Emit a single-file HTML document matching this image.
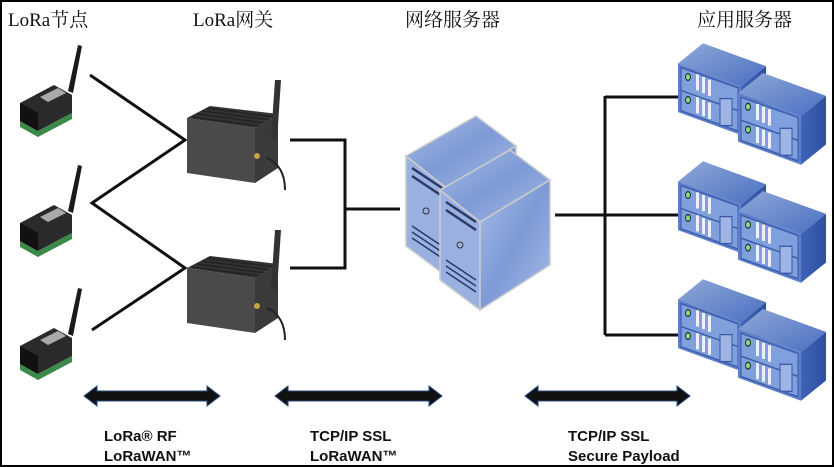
<!DOCTYPE html>
<html><head><meta charset="utf-8"><style>
html,body{margin:0;padding:0;background:#fff}
svg{display:block}
</style></head><body>
<svg width="834" height="467" viewBox="0 0 834 467" xmlns="http://www.w3.org/2000/svg">
<defs>
<linearGradient id="top" x1="0" y1="0" x2="1" y2="1"><stop offset="0" stop-color="#8fa8d8"/><stop offset="1" stop-color="#4a6fc0"/></linearGradient>
<linearGradient id="side" x1="0" y1="0" x2="1" y2="0"><stop offset="0" stop-color="#3d63b8"/><stop offset="1" stop-color="#2f4f9e"/></linearGradient>
<linearGradient id="tw" x1="0" y1="0" x2="1" y2="1"><stop offset="0" stop-color="#a8bde6"/><stop offset="0.5" stop-color="#7d9ad6"/><stop offset="1" stop-color="#a9bde6"/></linearGradient>
<g id="node">
  <path d="M56 36 L66 -10 L70 -9 L61 38 Z" fill="#1a1a1a"/>
  <polygon points="8,48 42,30 60,40 60,58 26,76 8,66" fill="#2a2a2a"/>
  <polygon points="8,66 26,76 60,58 60,64 26,82 8,72" fill="#3c8a4a"/>
  <polygon points="28,42 46,33 54,38 36,47" fill="#aaa"/>
  <polygon points="8,48 26,58 26,76 8,66" fill="#111"/>
</g>
<g id="gw">
  <polygon points="0,10 68,20 68,75 0,65" fill="#4a4a4a"/>
  <polygon points="0,10 23,-2 91,6 68,20" fill="#333"/>
  <path d="M5 9 L73 18 M10 6 L78 15 M15 3 L83 12 M20 0 L88 9" stroke="#222" stroke-width="1.5"/>
  <polygon points="68,20 91,6 91,60 68,75" fill="#3a3a3a"/>
  <path d="M84 30 L88 -28 L94 -28 L90 32 Z" fill="#333"/>
  <path d="M80 50 Q98 58 98 82" stroke="#222" stroke-width="2" fill="none"/>
  <circle cx="70" cy="48" r="3" fill="#c9a245"/>
</g>
<g id="unit">
  <polygon points="0,10 25,-5 88,12 63,27" fill="url(#top)"/>
  <polygon points="63,27 88,12 88,48 63,63" fill="url(#side)"/>
  <polygon points="0,10 63,27 63,63 0,46" fill="#5d7fcc"/>
  <polygon points="3,13 60,28 60,45 3,30" fill="#7f9fdd" stroke="#3a5aa8" stroke-width="1"/>
  <circle cx="10" cy="20" r="2.5" fill="#8fdc7a" stroke="#234" stroke-width="1"/>
  <rect x="18" y="18" width="3" height="12" fill="#eef"/><rect x="24" y="20" width="3" height="12" fill="#eef"/><rect x="30" y="22" width="3" height="12" fill="#eef"/>
  <polygon points="3,30 60,45 60,60 3,45" fill="#7f9fdd" stroke="#3a5aa8" stroke-width="1"/>
  <circle cx="10" cy="37" r="2.5" fill="#8fdc7a" stroke="#234" stroke-width="1"/>
  <rect x="18" y="35" width="3" height="12" fill="#eef"/><rect x="24" y="37" width="3" height="12" fill="#eef"/><rect x="30" y="39" width="3" height="12" fill="#eef"/>
  <rect x="42" y="36" width="12" height="20" fill="#9fb5e5" stroke="#3a5aa8"/>
</g>
<g id="rack">
  <use href="#unit" x="0" y="0"/>
  <use href="#unit" x="60" y="22"/>
</g>
<g id="tower">
  <polygon points="0,40 70,0 110,30 40,72" fill="url(#tw)" stroke="#ccc" stroke-width="1.5"/>
  <polygon points="0,40 40,72 40,160 0,130" fill="#9ab0e0" stroke="#ccc" stroke-width="1.5"/>
  <polygon points="40,72 110,30 110,115 40,160" fill="url(#tw)" stroke="#ccc" stroke-width="1.5"/>
  <path d="M6 52 L36 72 M6 60 L36 80" stroke="#2a3a66" stroke-width="2.5"/>
  <circle cx="20" cy="95" r="3" fill="none" stroke="#333"/>
  <path d="M6 110 L36 130 M6 116 L36 136 M6 122 L36 142" stroke="#2a3a66" stroke-width="1.5"/>
</g>
</defs>
<rect x="1" y="1" width="832" height="465" fill="#fff" stroke="#000" stroke-width="2"/>
<g font-family="Liberation Serif, 'Noto Serif CJK SC', serif" font-size="19" fill="#111">
<text x="8" y="26">LoRa节点</text>
<text x="193" y="26">LoRa网关</text>
<text x="405" y="26">网络服务器</text>
<text x="697" y="26">应用服务器</text>
</g>
<g stroke="#111" stroke-width="3" fill="none">
<polyline points="90,75 185,140 92,203 185,268 92,330"/>
<polyline points="290,140 345,140 345,268 290,268"/>
<line x1="345" y1="209" x2="400" y2="209"/>
<line x1="555" y1="215" x2="605" y2="215"/>
<line x1="605" y1="96" x2="605" y2="335"/>
<line x1="605" y1="97" x2="680" y2="97"/>
<line x1="605" y1="215" x2="680" y2="215"/>
<line x1="605" y1="335" x2="680" y2="335"/>
</g>
<use href="#node" x="12" y="55"/>
<use href="#node" x="12" y="175"/>
<use href="#node" x="12" y="298"/>
<use href="#gw" x="187" y="108"/>
<use href="#gw" x="187" y="258"/>
<use href="#tower" x="406" y="116"/>
<use href="#tower" x="440" y="150"/>
<g transform="translate(678,50) scale(1,1.35)"><use href="#rack"/></g>
<g transform="translate(678,168) scale(1,1.35)"><use href="#rack"/></g>
<g transform="translate(678,286) scale(1,1.35)"><use href="#rack"/></g>
<g fill="#111" stroke="#2a4a80" stroke-width="1">
<polygon points="84,396 97,386 97,391 207,391 207,386 220,396 207,406 207,401 97,401 97,406"/>
<polygon points="275,396 288,386 288,391 429,391 429,386 442,396 429,406 429,401 288,401 288,406"/>
<polygon points="525,396 538,386 538,391 677,391 677,386 690,396 677,406 677,401 538,401 538,406"/>
</g>
<g font-family="Liberation Sans, sans-serif" font-size="15" font-weight="bold" fill="#111">
<text x="104" y="441">LoRa® RF</text>
<text x="104" y="461">LoRaWAN™</text>
<text x="310" y="441">TCP/IP SSL</text>
<text x="310" y="461">LoRaWAN™</text>
<text x="568" y="441">TCP/IP SSL</text>
<text x="568" y="461">Secure Payload</text>
</g>
</svg>
</body></html>
